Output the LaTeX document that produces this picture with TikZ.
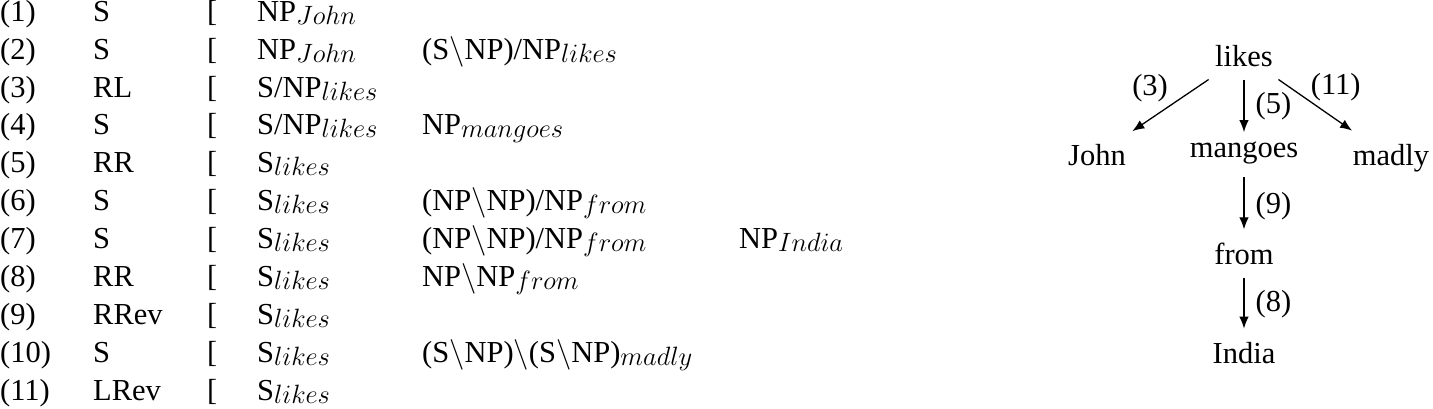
\RequirePackage{fix-cm}
\documentclass[tikz,border=0pt]{standalone}
\usepackage{fontspec}
\setmainfont{Liberation Serif}
\usetikzlibrary{arrows.meta}
\newcommand{\bs}{$\backslash$}
\newcommand{\lsub}[1]{\raisebox{-3pt}{\fontsize{26.5}{30}\selectfont$#1$}}
\begin{document}
\begin{tikzpicture}[x=1pt,y=-1pt,
  txt/.style={font=\fontsize{30.5}{36}\selectfont},
  cell/.style={txt, anchor=base west, inner sep=0pt},
  tnode/.style={txt, anchor=base, inner xsep=8pt, inner ysep=13pt},
  arr/.style={-{Latex[length=12pt,width=9.5pt]}, line width=1.3pt},
  lbl/.style={txt, inner sep=0pt}]
\useasboundingbox (0,0) rectangle (1433,408);
% row 1
\node[cell] (n1) at (0,21.2) {(1)};
\node[cell] (o1) at (93,21.2) {S};
\node[cell] (b1) at (207,21.2) {[};
\node[cell] (a1) at (257,21.2) {NP\lsub{John}};
% row 2
\node[cell] (n2) at (0,59.1) {(2)};
\node[cell] (o2) at (93,59.1) {S};
\node[cell] (b2) at (207,59.1) {[};
\node[cell] (a2) at (257,59.1) {NP\lsub{John}};
\node[cell] (c2) at (422,59.1) {(S\bs NP)/NP\lsub{likes}};
% row 3
\node[cell] (n3) at (0,97) {(3)};
\node[cell] (o3) at (93,97) {RL};
\node[cell] (b3) at (207,97) {[};
\node[cell] (a3) at (257,97) {S/NP\lsub{likes}};
% row 4
\node[cell] (n4) at (0,134.9) {(4)};
\node[cell] (o4) at (93,134.9) {S};
\node[cell] (b4) at (207,134.9) {[};
\node[cell] (a4) at (257,134.9) {S/NP\lsub{likes}};
\node[cell] (c4) at (422,134.9) {NP\lsub{mangoes}};
% row 5
\node[cell] (n5) at (0,172.8) {(5)};
\node[cell] (o5) at (93,172.8) {RR};
\node[cell] (b5) at (207,172.8) {[};
\node[cell] (a5) at (257,172.8) {S\lsub{likes}};
% row 6
\node[cell] (n6) at (0,210.7) {(6)};
\node[cell] (o6) at (93,210.7) {S};
\node[cell] (b6) at (207,210.7) {[};
\node[cell] (a6) at (257,210.7) {S\lsub{likes}};
\node[cell] (c6) at (422,210.7) {(NP\bs NP)/NP\lsub{from}};
% row 7
\node[cell] (n7) at (0,248.6) {(7)};
\node[cell] (o7) at (93,248.6) {S};
\node[cell] (b7) at (207,248.6) {[};
\node[cell] (a7) at (257,248.6) {S\lsub{likes}};
\node[cell] (c7) at (422,248.6) {(NP\bs NP)/NP\lsub{from}};
\node[cell] (d7) at (739,248.6) {NP\lsub{India}};
% row 8
\node[cell] (n8) at (0,286.5) {(8)};
\node[cell] (o8) at (93,286.5) {RR};
\node[cell] (b8) at (207,286.5) {[};
\node[cell] (a8) at (257,286.5) {S\lsub{likes}};
\node[cell] (c8) at (422,286.5) {NP\bs NP\lsub{from}};
% row 9
\node[cell] (n9) at (0,324.4) {(9)};
\node[cell] (o9) at (93,324.4) {RRev};
\node[cell] (b9) at (207,324.4) {[};
\node[cell] (a9) at (257,324.4) {S\lsub{likes}};
% row 10
\node[cell] (n10) at (0,362.3) {(10)};
\node[cell] (o10) at (93,362.3) {S};
\node[cell] (b10) at (207,362.3) {[};
\node[cell] (a10) at (257,362.3) {S\lsub{likes}};
\node[cell] (c10) at (422,362.3) {(S\bs NP)\bs(S\bs NP)\lsub{madly}};
% row 11
\node[cell] (n11) at (0,400.2) {(11)};
\node[cell] (o11) at (93,400.2) {LRev};
\node[cell] (b11) at (207,400.2) {[};
\node[cell] (a11) at (257,400.2) {S\lsub{likes}};
% tree
\node[tnode] (likes) at (1244,66) {likes};
\node[tnode] (john) at (1097,165.5) {John};
\node[tnode] (mangoes) at (1244,157) {mangoes};
\node[tnode] (madly) at (1391,165) {madly};
\node[tnode] (from) at (1244,264) {from};
\node[tnode] (india) at (1244,363) {India};
\draw[arr] (likes) -- node[lbl, midway, anchor=south east, xshift=-2pt, yshift=3pt] {(3)} (john);
\draw[arr, shorten >=-4pt] (likes) -- node[lbl, midway, anchor=west, xshift=11pt, yshift=-2pt] {(5)} (mangoes);
\draw[arr] (likes) -- node[lbl, midway, anchor=south west, xshift=-5pt, yshift=3pt] {(11)} (madly);
\draw[arr] (mangoes) -- node[lbl, midway, anchor=west, xshift=11pt, yshift=-3pt] {(9)} (from);
\draw[arr] (from) -- node[lbl, midway, anchor=west, xshift=11pt, yshift=-1pt] {(8)} (india);
\end{tikzpicture}
\end{document}
